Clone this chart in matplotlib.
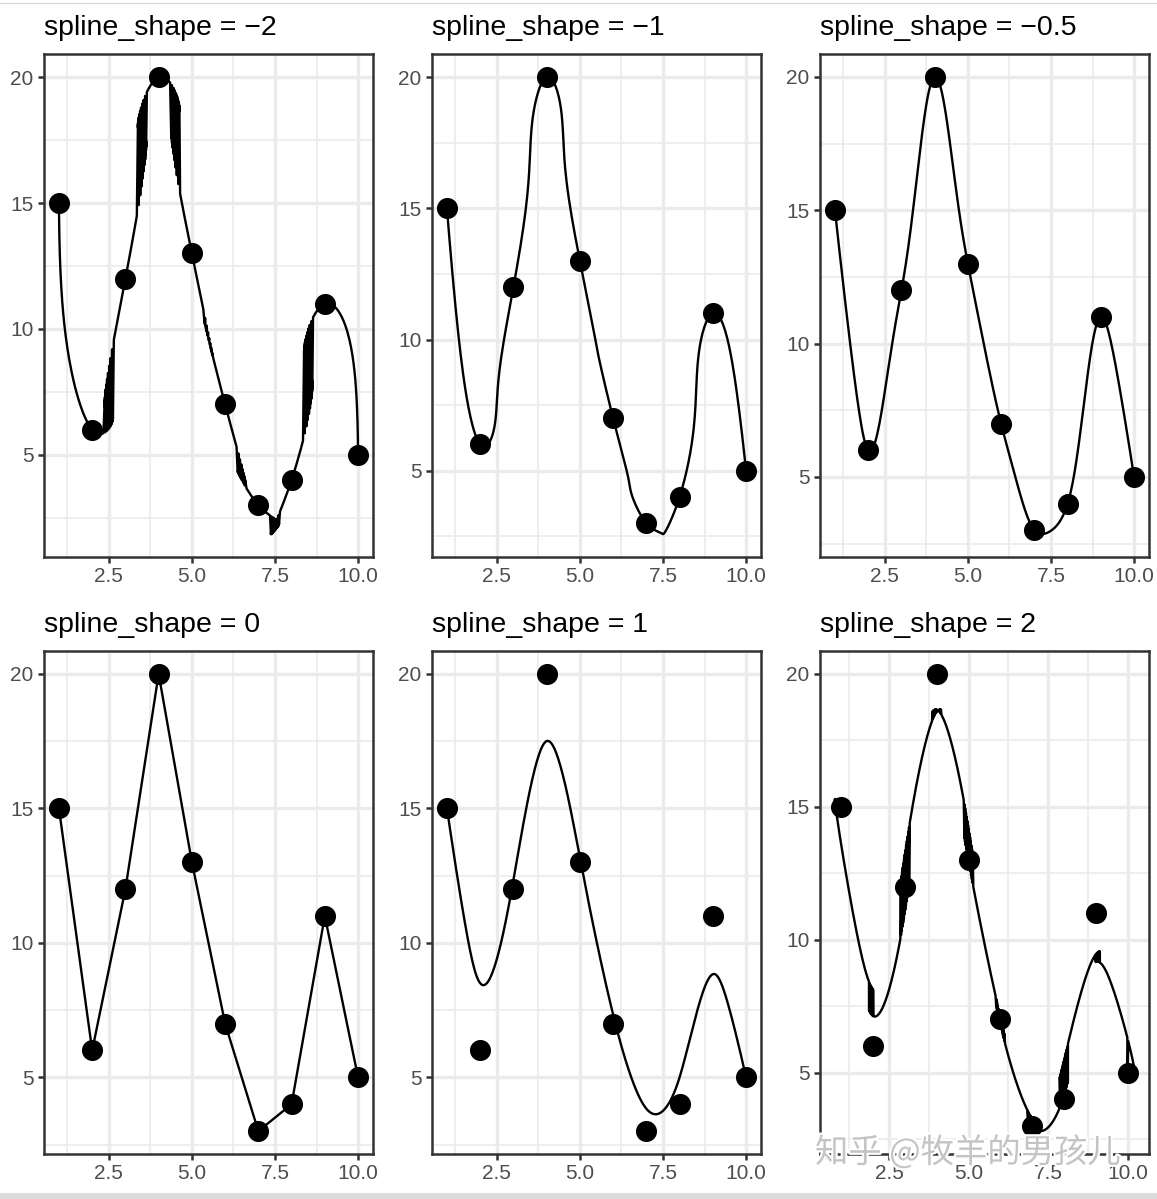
import numpy as np
import matplotlib
matplotlib.use("Agg")
import matplotlib.pyplot as plt
import matplotlib.patheffects as pe
from matplotlib.ticker import FixedLocator, FixedFormatter
from matplotlib.patches import Rectangle
from matplotlib.lines import Line2D

plt.rcParams['font.family'] = ['Liberation Sans', 'DejaVu Sans']

# data
x_vals = [1, 2, 3, 4, 5, 6, 7, 8, 9, 10]
y_vals = [15, 6, 12, 20, 13, 7, 3, 4, 11, 5]
shapes = [-2, -1, -0.5, 0, 1, 2]
shape_labels = ['\u22122', '\u22121', '\u22120.5', '0', '1', '2']
x_ticks = [2.5, 5.0, 7.5, 10.0]
x_tick_labels = ['2.5', '5.0', '7.5', '10.0']
y_ticks = [5, 10, 15, 20]
y_tick_labels = ['5', '10', '15', '20']


# ---- X-spline (Blanc & Schlick), same steps as R's graphics::xspline ----
def f_blend(num, den):
    p = 2 * den * den
    num = num / den
    return num ** 3 * (10 - p + (2 * p - 15) * num + (6 - p) * num * num)

def g_blend(u, q):
    return u * (q + u * (2 * q + u * (8 - 12 * q + u * (14 * q - 11 + u * (4 - 5 * q)))))

def h_blend(u, q):
    u2 = u * u
    return u * (q + u * (2 * q + u2 * (-2 * q - u * q)))

def blend(k, t, s1, s2):
    A = [0.0] * 4
    if s1 < 0:
        A[0] = h_blend(-t, -s1)
        A[2] = g_blend(t, -s1)
    else:
        Tk = k + 1 + s1
        A[0] = f_blend(t + k + 1 - Tk, k - Tk) if t + k + 1 < Tk else 0.0
        Tk = k + 1 - s1
        A[2] = f_blend(t + k + 1 - Tk, k + 2 - Tk)
    if s2 < 0:
        A[1] = g_blend(1 - t, -s2)
        A[3] = h_blend(t - 1, -s2)
    else:
        Tk = k + 2 + s2
        A[1] = f_blend(t + k + 1 - Tk, k + 1 - Tk)
        Tk = k + 2 - s2
        A[3] = f_blend(t + k + 1 - Tk, k + 3 - Tk) if t + k + 1 > Tk else 0.0
    return A

def blend_point(A, px, py):
    w = sum(A)
    return (sum(a * v for a, v in zip(A, px)) / w,
            sum(a * v for a, v in zip(A, py)) / w)

DEV_DIAG = np.sqrt(2) * (480 / 72) * 1200

def step_computing(k, px, py, s1, s2):
    if s1 == 0 and s2 == 0:
        return 1.0
    if s1 > 0:
        xs, ys = blend_point(blend(k, 0.0, s1, s2), px, py)
    else:
        xs, ys = px[1], py[1]
    if s2 > 0:
        xe, ye = blend_point(blend(k, 1.0, s1, s2), px, py)
    else:
        xe, ye = px[2], py[2]
    xm, ym = blend_point(blend(k, 0.5, s1, s2), px, py)
    xv1, yv1 = xs - xm, ys - ym
    xv2, yv2 = xe - xm, ye - ym
    sp = xv1 * xv2 + yv1 * yv2
    slp = np.sqrt((xv1 ** 2 + yv1 ** 2) * (xv2 ** 2 + yv2 ** 2))
    cosa = 0.0 if slp == 0 else sp / slp
    dist = min(np.hypot(xe - xs, ye - ys), DEV_DIAG)
    nsteps = np.sqrt(dist) / 2 + int((1 + cosa) * 10)
    step = 1.0 if nsteps == 0 else 1.0 / nsteps
    if step > 0.2 or step == 0:
        step = 0.2
    return step

def xspline_open(xs, ys, shape):
    n = len(xs)
    s = [shape] * n
    s[0] = 0.0
    s[-1] = 0.0
    out_x, out_y = [], []

    def add(x, y):
        if out_x and out_x[-1] == x and out_y[-1] == y:
            return
        out_x.append(x)
        out_y.append(y)

    def segment(k, idx):
        px = [xs[i] for i in idx]
        py = [ys[i] for i in idx]
        s1, s2 = s[idx[1]], s[idx[2]]
        step = step_computing(k, px, py, s1, s2)
        t = 0.0
        while t < 1:
            add(*blend_point(blend(k, t, s1, s2), px, py))
            t += step
        return px, py

    idx = [0, 0, 1, 2]
    k = 0
    while True:
        segment(k, idx)
        if k + 3 >= n:
            break
        idx = [k, k + 1, k + 2, k + 3]
        k += 1
    px, py = segment(k, [n - 3, n - 2, n - 1, n - 1])
    add(px[3], py[3])
    return np.array(out_x), np.array(out_y)

# ggalt computes the spline on a blank 480x480 png device (usr 0..1)
PW, PH = 5.42667, 4.82667
def to_dev(x, y):
    return ((0.82 + (np.asarray(x) + 0.04) / 1.08 * PW) * 1200,
            (1.02 + (np.asarray(y) + 0.04) / 1.08 * PH) * 1200)

def from_dev(x, y):
    return (x / 1200 - 0.82) / PW * 1.08 - 0.04, (y / 1200 - 1.02) / PH * 1.08 - 0.04


fig = plt.figure(figsize=(11.57, 11.99), dpi=100)
W, H = 1157, 1199
lefts = [44, 432, 820]
tops = [54, 651]
pw, ph = 329, 503

dx, dy = to_dev(x_vals, y_vals)
for i, shp in enumerate(shapes):
    r, c = divmod(i, 3)
    ax = fig.add_axes([lefts[c] / W, 1 - (tops[r] + ph) / H, pw / W, ph / H])
    sx, sy = xspline_open(list(dx), list(dy), shp)
    cx, cy = from_dev(sx, sy)
    order = np.argsort(cx, kind='stable')  # geom_line sorts by x
    ax.plot(cx[order], cy[order], color='black', lw=1.7, zorder=3, solid_joinstyle='round')
    ax.scatter(x_vals, y_vals, s=230, color='black', zorder=4, linewidths=0)
    ax.margins(0.05)

    ax.xaxis.set_major_locator(FixedLocator(x_ticks))
    ax.xaxis.set_major_formatter(FixedFormatter(x_tick_labels))
    ax.yaxis.set_major_locator(FixedLocator(y_ticks))
    ax.yaxis.set_major_formatter(FixedFormatter(y_tick_labels))
    ax.xaxis.set_minor_locator(FixedLocator([0.0, 1.25, 3.75, 6.25, 8.75, 11.25]))
    ax.yaxis.set_minor_locator(FixedLocator([0, 2.5, 7.5, 12.5, 17.5, 22.5]))
    ax.grid(which='major', color='#EBEBEB', lw=2.4, zorder=0)
    ax.grid(which='minor', color='#EBEBEB', lw=1.2, zorder=0)
    ax.set_axisbelow(True)
    ax.tick_params(which='major', length=4.5, width=1.8, color='#333333',
                   labelsize=15, labelcolor='#4D4D4D', pad=3)
    ax.tick_params(which='minor', length=0)
    for sp in ax.spines.values():
        sp.set_color('#333333')
        sp.set_linewidth(1.8)
    ax.set_title('spline_shape = ' + shape_labels[i], loc='left', fontsize=20.5, pad=14)

fig.add_artist(Line2D([0, 1], [1 - 3 / H, 1 - 3 / H], color='#D8D8D8', lw=1))
fig.add_artist(Rectangle((0, 0), 1, 6 / H, color='#DCDCDC', lw=0))
fig.text(815 / W, (H - 1153) / H, '知乎 @牧羊的男孩儿', fontsize=24, color='#C4C4C4',
         va='center', ha='left', family=['Noto Sans CJK SC', 'DejaVu Sans'],
         path_effects=[pe.withStroke(linewidth=3, foreground='white')])

fig.savefig('out.png', dpi=100)
